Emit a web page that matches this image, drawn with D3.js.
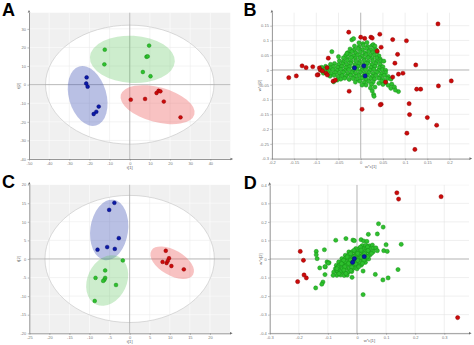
<!DOCTYPE html>
<html><head><meta charset="utf-8">
<script src="https://cdn.jsdelivr.net/npm/d3@7"></script>
<style>body{margin:0;background:#fff}svg{display:block;font-family:"Liberation Sans",Arial,sans-serif}</style>
</head><body><svg id="c" width="474" height="345"></svg>
<script>
// ---------------- DATA ----------------
const panelLabels = ["A","B","C","D"];
const axisTitlesScores = ["t[1]","t[2]"];
const axisTitlesLoadings = ["w*c[1]","w*c[2]"];

// Panel A (scores)
const aXTicks = [-50,-40,-30,-20,-10,0,10,20,30,40];
const aYTicks = [-40,-30,-20,-10,0,10,20,30];
const aGreen = [[-12.4,18.8],[9.6,21.0],[-12.6,10.9],[8.3,15.0],[8.9,15.2],[6.5,6.8],[10.3,4.5]];
const aBlue  = [[-21.4,3.9],[-21.6,0.6],[-20.9,-1.1],[-15.4,-11.8],[-16.6,-14.6],[-17.9,-15.8]];
const aRed   = [[0.5,-8.1],[7.6,-7.7],[13.3,-4.5],[14.3,-3.3],[15.2,-3.6],[16.9,-9.1],[25.2,-17.6]];
// group ellipses: [cx, cy, rx, ry, angle]
const aEllGreen = [1.3,13.6,21.1,12.7,3];
const aEllBlue  = [-20.9,-6.1,9.3,16.5,-16];
const aEllRed   = [13.8,-10.8,18.9,9.4,15];
const aHotelling = [0,0,41.8,32];

// Panel C (scores)
const cXTicks = [-25,-20,-15,-10,-5,0,5,10,15,20];
const cYTicks = [-20,-15,-10,-5,0,5,10,15,20];
const cBlue  = [[-3.8,15.1],[-5.1,13.2],[-2.7,5.6],[-5.6,3.2],[-8.0,2.5],[-3.7,2.7]];
const cGreen = [[-1.7,-0.4],[-6.1,-3.1],[-8.5,-5.1],[-6.1,-5.1],[-6.3,-5.6],[-6.6,-5.9],[-3.4,-7.0],[-8.7,-11.3]];
const cRed   = [[9.0,2.2],[9.8,0.2],[8.2,-0.8],[9.2,-1.1],[9.5,-0.5],[10.4,-1.9],[13.5,-2.8]];
const cEllBlue  = [-5.1,7.8,4.7,8.2,8];
const cEllGreen = [-5.6,-5.8,4.9,7.1,25];
const cEllRed   = [10.6,-1.0,6.0,3.4,30];
const cHotelling = [0,0,21.1,17.1];

// Panel B (loadings)
const bXTicks = [-0.2,-0.15,-0.1,-0.05,0,0.05,0.1,0.15,0.2];
const bYTicks = [-0.3,-0.25,-0.2,-0.15,-0.1,-0.05,0,0.05,0.1,0.15];
const bGreen = [
[-0.004,0.092],[0.005,0.089],[0.014,0.093],
[-0.014,0.081],[-0.004,0.078],[0.006,0.083],[0.016,0.079],[0.025,0.082],
[-0.024,0.071],[-0.015,0.068],[-0.006,0.072],[0.004,0.069],[0.013,0.073],[0.022,0.068],[0.031,0.071],
[-0.029,0.059],[-0.02,0.062],[-0.011,0.058],[-0.001,0.061],[0.009,0.058],[0.018,0.062],[0.027,0.059],[0.037,0.061],
[-0.034,0.049],[-0.025,0.052],[-0.016,0.048],[-0.007,0.051],[0.003,0.048],[0.012,0.052],[0.021,0.049],[0.031,0.051],[0.041,0.048],
[-0.039,0.041],[-0.03,0.038],[-0.021,0.042],[-0.012,0.039],[-0.002,0.041],[0.008,0.038],[0.017,0.042],[0.026,0.039],[0.036,0.041],[0.044,0.037],
[-0.048,0.031],[-0.039,0.028],[-0.03,0.032],[-0.021,0.029],[-0.011,0.031],[-0.002,0.028],[0.008,0.032],[0.017,0.029],[0.027,0.031],[0.036,0.028],[0.045,0.031],
[-0.068,0.019],[-0.059,0.022],[-0.05,0.018],[-0.041,0.021],[-0.032,0.019],[-0.023,0.022],[-0.013,0.018],[-0.004,0.021],[0.006,0.019],[0.015,0.022],[0.025,0.018],[0.034,0.021],[0.044,0.019],
[-0.088,0.009],[-0.079,0.012],[-0.07,0.008],[-0.061,0.011],[-0.052,0.009],[-0.043,0.012],[-0.034,0.008],[-0.025,0.011],[-0.015,0.009],[-0.006,0.012],[0.004,0.008],[0.013,0.011],[0.023,0.009],[0.032,0.012],[0.042,0.008],[0.05,0.011],
[-0.09,-0.001],[-0.081,0.002],[-0.072,-0.002],[-0.063,0.001],[-0.054,-0.001],[-0.045,0.002],[-0.036,-0.002],[-0.027,0.001],[-0.017,-0.001],[-0.008,0.002],[0.002,-0.002],[0.011,0.001],[0.021,-0.001],[0.03,0.002],[0.04,-0.002],[0.049,0.001],[0.056,-0.001],
[-0.084,-0.011],[-0.075,-0.008],[-0.066,-0.012],[-0.057,-0.009],[-0.048,-0.011],[-0.039,-0.008],[-0.029,-0.012],[-0.02,-0.009],[-0.011,-0.011],[-0.001,-0.008],[0.009,-0.012],[0.018,-0.009],[0.028,-0.011],[0.037,-0.008],[0.047,-0.012],[0.056,-0.009],
[-0.069,-0.021],[-0.06,-0.018],[-0.051,-0.022],[-0.042,-0.019],[-0.033,-0.021],[-0.023,-0.018],[-0.014,-0.022],[-0.004,-0.019],[0.006,-0.021],[0.015,-0.018],[0.025,-0.022],[0.034,-0.019],[0.044,-0.021],[0.053,-0.018],[0.062,-0.022],
[-0.045,-0.031],[-0.036,-0.028],[-0.026,-0.032],[-0.017,-0.029],[-0.007,-0.031],[0.003,-0.028],[0.012,-0.032],[0.022,-0.029],[0.031,-0.031],[0.041,-0.028],[0.05,-0.032],[0.06,-0.029],[0.068,-0.031],
[-0.012,-0.041],[-0.002,-0.038],[0.008,-0.042],[0.018,-0.039],[0.028,-0.041],[0.047,-0.038],[0.056,-0.042],
[0.012,-0.051],[0.024,-0.049],[0.05,-0.049],[0.062,-0.052],[0.07,-0.048],
[0.022,-0.061],[0.032,-0.058],[0.068,-0.062],[0.076,-0.058],
[0.026,-0.071],[0.085,-0.073],[0.078,-0.068],
[0.029,-0.083],[0.03,-0.089],
[-0.065,0.062],[-0.05,0.045],[0.052,0.03],[-0.02,0.102],[-0.016,0.106],[0.028,0.086],[0.032,0.081],[0.035,0.068],
[0.003,-0.051],[-0.053,-0.034],[-0.061,-0.04],[0.041,-0.045],[-0.031,0.056]
];
const bRed = [
[0.174,0.156],[-0.027,0.128],[0.000,0.111],[0.009,0.107],[0.023,0.111],[0.026,0.108],[0.043,0.121],[0.046,0.077],
[0.037,0.064],[0.072,0.103],[0.103,0.099],[0.083,0.053],[0.077,0.023],[0.124,0.017],[0.095,-0.011],[0.085,-0.014],
[0.072,-0.024],[0.056,-0.041],[0.204,-0.037],[0.175,-0.054],[0.126,-0.065],[0.135,-0.065],[0.109,-0.114],[0.110,-0.151],
[0.150,-0.161],[0.046,-0.116],[0.044,-0.118],[0.003,-0.133],[-0.026,-0.072],[0.171,-0.187],[0.104,-0.214],[0.122,-0.269],
[-0.162,-0.026],[-0.145,-0.020],[-0.132,0.014],[-0.123,0.008],[-0.108,0.011],[-0.093,0.007],[-0.091,0.000],[-0.096,-0.016],
[-0.098,-0.017],[-0.086,-0.003],[-0.078,-0.011],[-0.076,0.008],[-0.073,0.040],[-0.075,-0.017],[-0.062,-0.038],[-0.057,-0.034]
];
const bBlue = [[-0.014,0.007],[0.007,0.014],[0.010,-0.020]];

// Panel D (loadings)
const dXTicks = [-0.3,-0.2,-0.1,0,0.1,0.2,0.3];
const dYTicks = [-0.4,-0.3,-0.2,-0.1,0,0.1,0.2,0.3,0.4];
const dGreen = [
[0.018,0.072],[0.030,0.074],[0.042,0.071],[0.053,0.075],
[-0.004,0.056],[0.008,0.058],[0.020,0.055],[0.032,0.057],[0.044,0.055],[0.056,0.058],
[-0.028,0.038],[-0.016,0.040],[-0.004,0.037],[0.008,0.039],[0.020,0.036],[0.032,0.040],[0.044,0.037],[0.056,0.039],
[-0.040,0.020],[-0.028,0.022],[-0.016,0.019],[-0.004,0.021],[0.008,0.018],[0.020,0.022],[0.032,0.019],[0.044,0.021],
[-0.052,0.002],[-0.040,0.004],[-0.028,0.001],[-0.016,0.003],[-0.004,0.000],[0.008,0.004],[0.020,0.001],[0.032,0.003],[0.040,0.000],
[-0.063,-0.016],[-0.051,-0.014],[-0.039,-0.017],[-0.027,-0.015],[-0.015,-0.018],[-0.003,-0.014],[0.009,-0.017],[0.021,-0.015],[0.029,-0.018],
[-0.071,-0.034],[-0.059,-0.032],[-0.047,-0.035],[-0.035,-0.033],[-0.023,-0.036],[-0.011,-0.032],[0.001,-0.035],[0.015,-0.033],
[-0.074,-0.052],[-0.062,-0.050],[-0.050,-0.053],[-0.038,-0.051],[-0.026,-0.054],[-0.012,-0.050],[0.000,-0.053],
[-0.080,-0.070],[-0.068,-0.068],[-0.056,-0.071],[-0.044,-0.069],[-0.030,-0.072],[-0.018,-0.068],
[-0.069,-0.088],[-0.056,-0.086],[-0.044,-0.089],[-0.034,-0.087],
[0.012,0.064],[0.036,0.065],[-0.010,0.047],[0.014,0.048],[0.038,0.046],[-0.022,0.029],[0.002,0.030],[0.026,0.028],[0.050,0.030],
[-0.034,0.011],[-0.010,0.012],[0.014,0.010],[0.036,0.012],[-0.046,-0.007],[-0.022,-0.006],[0.002,-0.008],[0.024,-0.006],
[-0.053,-0.025],[-0.029,-0.024],[-0.005,-0.026],[0.019,-0.024],[-0.066,-0.043],[-0.042,-0.042],[-0.018,-0.044],[0.006,-0.042],
[-0.069,-0.061],[-0.045,-0.060],[-0.021,-0.062],[-0.062,-0.079],[-0.038,-0.078],
[0.074,0.190],[0.090,0.172],[0.070,0.135],[0.039,0.133],[-0.073,0.101],[-0.038,0.110],[-0.014,0.102],[-0.009,0.099],
[0.014,0.104],[0.023,0.097],[0.034,0.095],[0.100,0.077],[0.152,0.079],[0.092,0.045],[0.104,0.041],[-0.112,0.050],
[-0.140,0.041],[-0.140,0.023],[-0.137,0.002],[-0.103,-0.016],[-0.096,-0.020],[-0.128,-0.048],[-0.109,-0.043],[-0.110,-0.084],
[-0.117,-0.124],[-0.121,-0.136],[-0.142,-0.156],[-0.082,-0.088],[-0.069,-0.052],[-0.017,-0.099],[0.021,-0.065],[0.021,-0.192],
[0.063,-0.083],[0.089,-0.113],[0.107,-0.102],[0.141,-0.057],[-0.099,-0.023],[-0.110,-0.041],[0.065,0.060],[0.070,0.045]
];
const dRed = [[0.137,0.357],[0.143,0.323],[0.289,0.336],[0.346,-0.316],[-0.195,0.041],[-0.184,-0.007],[-0.182,-0.086],[-0.174,-0.102],[-0.204,-0.122]];
const dBlue = [[-0.009,0.002],[-0.015,-0.018],[0.025,0.013]];

// ---------------- DRAWING ----------------
const svg = d3.select("#c");
const COL = {
  green:{fill:"#2ec02e",stroke:"#128a12"},
  red:{fill:"#cc0a0a",stroke:"#8a0000"},
  blue:{fill:"#0a1aa8",stroke:"#000066"}
};
const ELLCOL = {green:"rgba(100,200,100,0.32)",blue:"rgba(60,80,180,0.36)",red:"rgba(235,80,80,0.35)"};

function panel(o){
  const g = svg.append("g");
  const x = d3.scaleLinear().domain(o.xd).range(o.xr);
  const y = d3.scaleLinear().domain(o.yd).range(o.yr);
  const x0=o.xr[0], x1=o.xr[1], yb=o.yr[0], yt=o.yr[1];
  const clip = "clip"+o.id;
  g.append("clipPath").attr("id",clip).append("rect")
    .attr("x",x0).attr("y",yt).attr("width",x1-x0).attr("height",yb-yt);
  const inner = g.append("g").attr("clip-path",`url(#${clip})`);
  inner.append("rect").attr("x",x0).attr("y",yt).attr("width",x1-x0).attr("height",yb-yt)
    .attr("fill",o.hot?"#f0f0f0":"#ffffff");
  function grid(sel,color){
    sel.append("g").selectAll("line").data(o.xt).join("line")
      .attr("x1",d=>x(d)).attr("x2",d=>x(d)).attr("y1",yt).attr("y2",yb)
      .attr("stroke",color).attr("stroke-width",0.6);
    sel.append("g").selectAll("line").data(o.yt).join("line")
      .attr("y1",d=>y(d)).attr("y2",d=>y(d)).attr("x1",x0).attr("x2",x1)
      .attr("stroke",color).attr("stroke-width",0.6);
  }
  if(o.hot){
    grid(inner,"#fdfdfd");
    const h=o.hot;
    const ex=x(h[0]), ey=y(h[1]), erx=x(h[2])-x(0), ery=y(0)-y(h[3]);
    inner.append("ellipse").attr("cx",ex).attr("cy",ey).attr("rx",erx).attr("ry",ery).attr("fill","#fff");
    const hc="hclip"+o.id;
    g.append("clipPath").attr("id",hc).append("ellipse").attr("cx",ex).attr("cy",ey).attr("rx",erx).attr("ry",ery);
    grid(inner.append("g").attr("clip-path",`url(#${hc})`),"#ececec");
    inner.append("ellipse").attr("cx",ex).attr("cy",ey).attr("rx",erx).attr("ry",ery)
      .attr("fill","none").attr("stroke","#c2c2c2").attr("stroke-width",0.6);
  } else {
    grid(inner,"#e4e4e4");
  }
  // zero lines
  inner.append("line").attr("x1",x(0)).attr("x2",x(0)).attr("y1",yt).attr("y2",yb).attr("stroke","#a0a0a0").attr("stroke-width",0.7);
  inner.append("line").attr("y1",y(0)).attr("y2",y(0)).attr("x1",x0).attr("x2",x1).attr("stroke","#a0a0a0").attr("stroke-width",0.7);
  // group ellipses
  (o.ells||[]).forEach(([e,c])=>{
    const cx=x(e[0]), cy=y(e[1]);
    inner.append("ellipse").attr("cx",cx).attr("cy",cy)
      .attr("rx",x(e[2])-x(0)).attr("ry",y(0)-y(e[3]))
      .attr("transform",`rotate(${e[4]},${cx},${cy})`)
      .attr("fill",ELLCOL[c]);
  });
  // points
  o.series.forEach(([data,c])=>{
    inner.append("g").selectAll("circle").data(data).join("circle")
      .attr("cx",d=>x(d[0])).attr("cy",d=>y(d[1])).attr("r",o.r)
      .attr("fill",COL[c].fill).attr("stroke",COL[c].stroke).attr("stroke-width",0.45);
  });
  // axes
  const fmt = d=>String(d);
  const ax = g.append("g").attr("transform",`translate(0,${yb})`)
    .call(d3.axisBottom(x).tickValues(o.xt).tickFormat(fmt).tickSize(1.6).tickSizeOuter(0).tickPadding(1.4));
  const ay = g.append("g").attr("transform",`translate(${x0},0)`)
    .call(d3.axisLeft(y).tickValues(o.yt).tickFormat(fmt).tickSize(1.6).tickSizeOuter(0).tickPadding(1.4));
  [ax,ay].forEach(a=>{
    a.select(".domain").attr("stroke","#6a6a6a").attr("stroke-width",0.7);
    a.selectAll(".tick line").attr("stroke","#777").attr("stroke-width",0.5);
    a.selectAll(".tick text").attr("fill","#777").style("font-size","4px").style("font-family","'Liberation Sans',Arial,sans-serif");
  });
  // arrowheads
  g.append("path").attr("d",`M${x1},${yb-1.3}L${x1+2.6},${yb}L${x1},${yb+1.3}Z`).attr("fill","#6a6a6a");
  g.append("path").attr("d",`M${x0-1.3},${yt}L${x0},${yt-2.6}L${x0+1.3},${yt}Z`).attr("fill","#6a6a6a");
  // axis titles
  g.append("text").attr("x",(x0+x1)/2).attr("y",o.xTitleY).attr("text-anchor","middle")
    .attr("fill","#666").style("font-size","4.2px").text(o.titles[0]);
  g.append("text").attr("transform",`translate(${o.yTitleX},${(yt+yb)/2}) rotate(-90)`).attr("text-anchor","middle")
    .attr("fill","#666").style("font-size","4.2px").text(o.titles[1]);
  // panel label
  svg.append("text").attr("x",o.lab[0]).attr("y",o.lab[1]).attr("font-weight","bold")
    .style("font-size","18px").attr("fill","#000").text(o.label);
}

panel({id:"A",label:panelLabels[0],lab:[2,16],xd:[-50,50],xr:[29,230.5],yd:[-40,38.8],yr:[159,12.5],
  xt:aXTicks,yt:aYTicks,hot:aHotelling,r:1.9,titles:axisTitlesScores,xTitleY:168.5,yTitleX:19.5,
  ells:[[aEllGreen,"green"],[aEllBlue,"blue"],[aEllRed,"red"]],
  series:[[aGreen,"green"],[aBlue,"blue"],[aRed,"red"]]});
panel({id:"B",label:panelLabels[1],lab:[243.5,16],xd:[-0.2,0.245],xr:[271.9,469.5],yd:[-0.3,0.195],yr:[158.6,12.4],
  xt:bXTicks,yt:bYTicks,hot:null,r:2.1,titles:axisTitlesLoadings,xTitleY:168,yTitleX:260.5,
  series:[[bGreen,"green"],[bRed,"red"],[bBlue,"blue"]]});
panel({id:"C",label:panelLabels[2],lab:[2,188],xd:[-25,25],xr:[29.3,230],yd:[-20,20],yr:[333.3,184.6],
  xt:cXTicks,yt:cYTicks,hot:cHotelling,r:1.9,titles:axisTitlesScores,xTitleY:343,yTitleX:19.5,
  ells:[[cEllBlue,"blue"],[cEllGreen,"green"],[cEllRed,"red"]],
  series:[[cBlue,"blue"],[cGreen,"green"],[cRed,"red"]]});
panel({id:"D",label:panelLabels[3],lab:[243.8,188.8],xd:[-0.3,0.385],xr:[269.7,469],yd:[-0.4,0.4],yr:[333.2,184.8],
  xt:dXTicks,yt:dYTicks,hot:null,r:2.1,titles:axisTitlesLoadings,xTitleY:342,yTitleX:262,
  series:[[dGreen,"green"],[dRed,"red"],[dBlue,"blue"]]});
</script></body></html>
